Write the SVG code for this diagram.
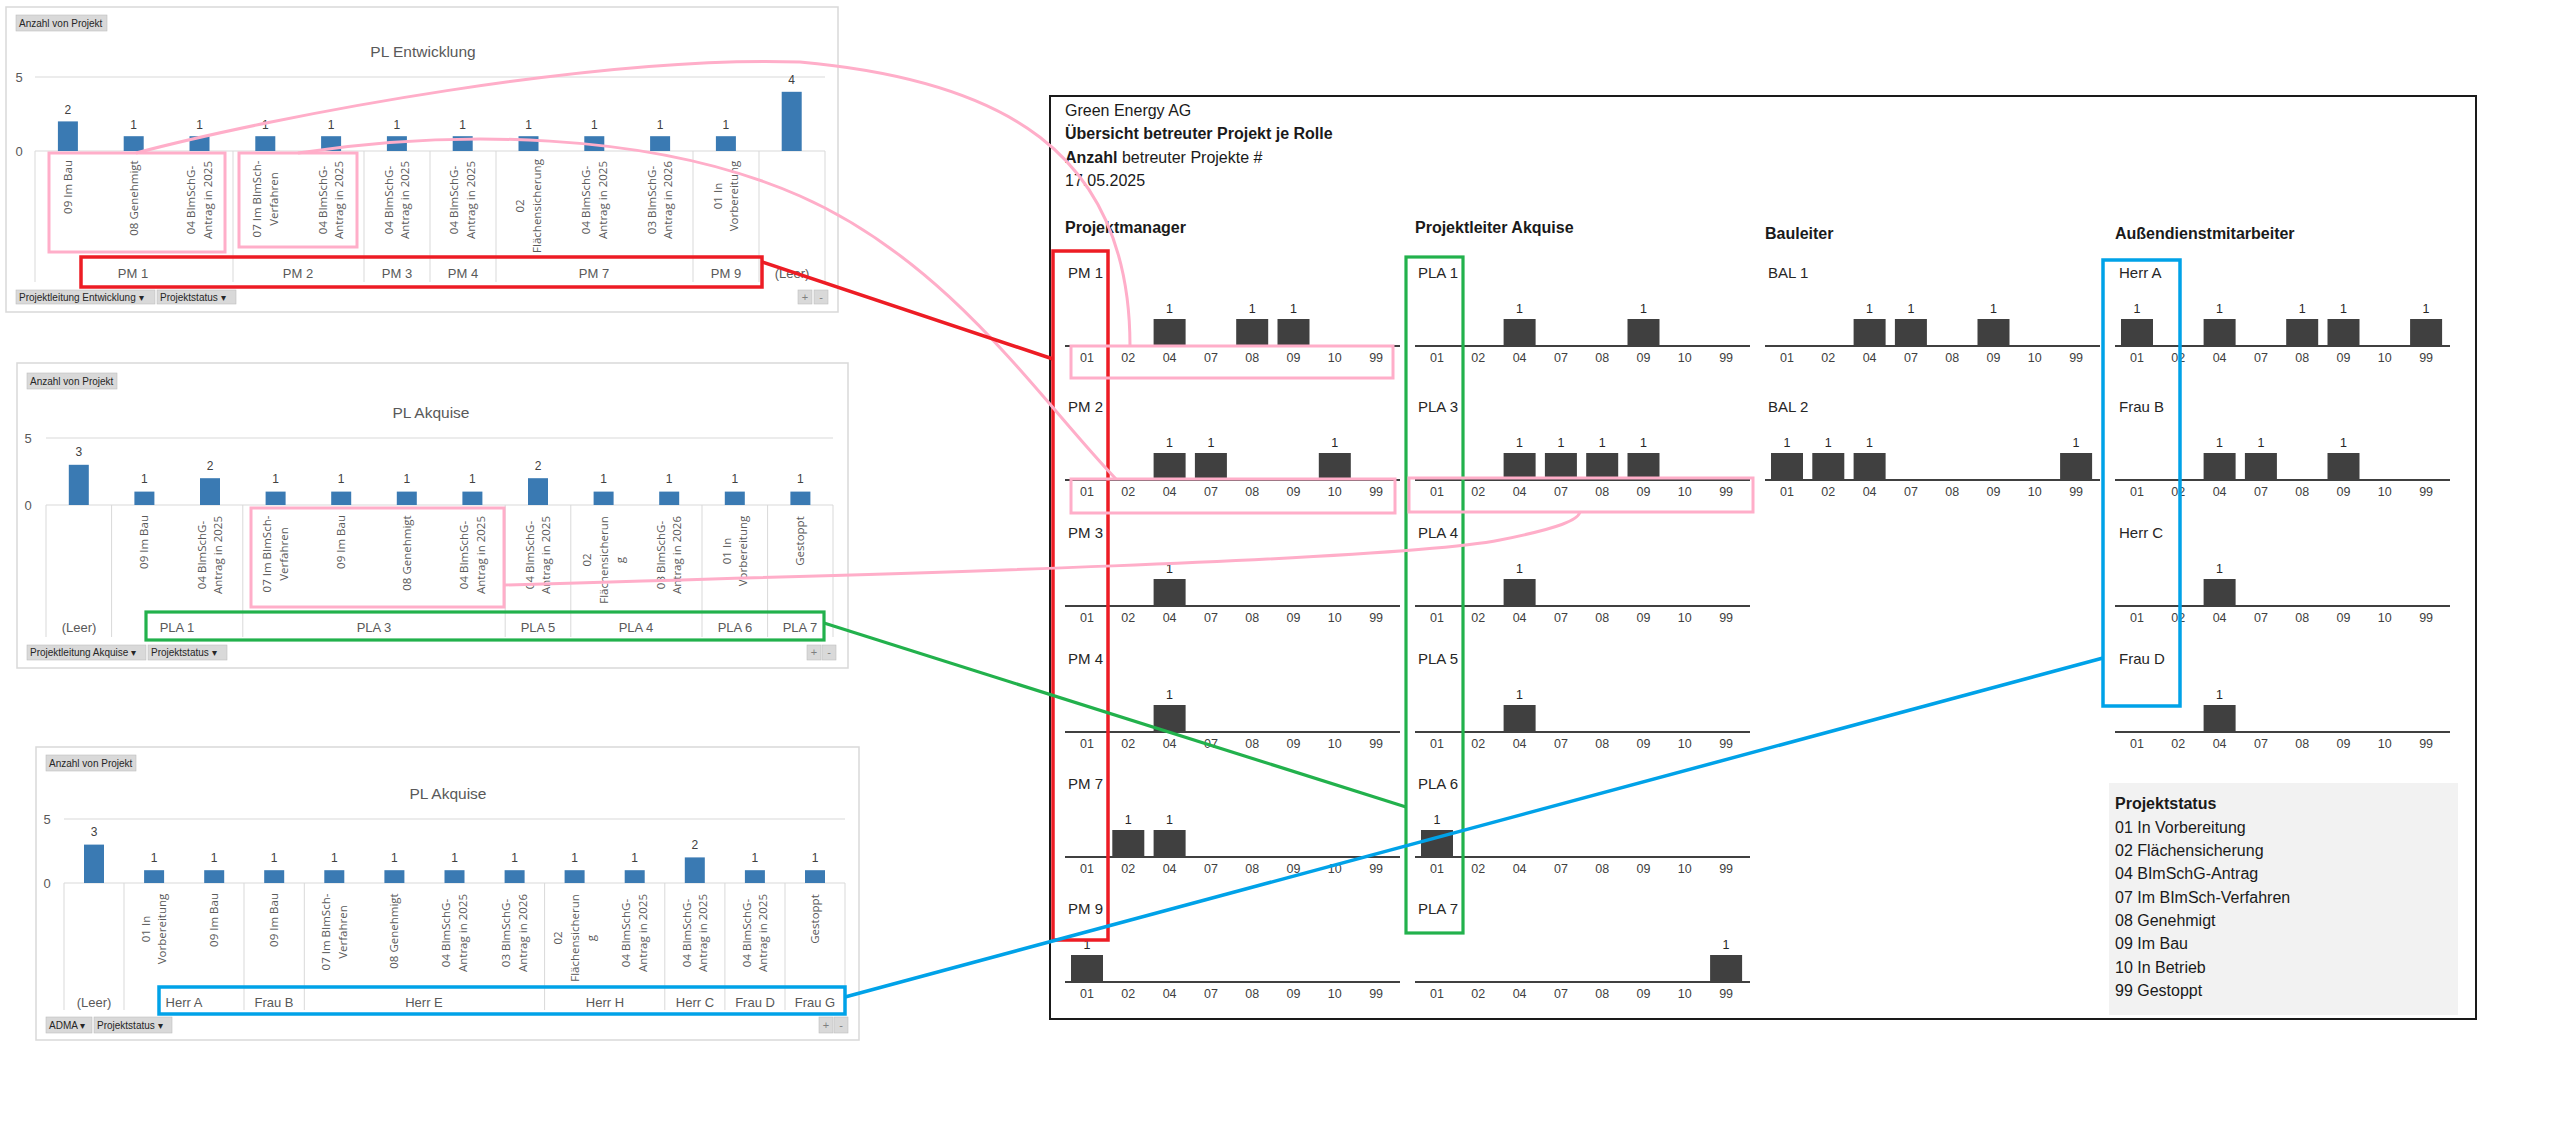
<svg xmlns="http://www.w3.org/2000/svg" xmlns:xlink="http://www.w3.org/1999/xlink" width="2560" height="1122" viewBox="0 0 2560 1122" font-family="'Liberation Sans', Arial, sans-serif">
<style>
.frame{fill:#fff;stroke:#d9d9d9;stroke-width:1.5}
.grid{stroke:#d9d9d9;stroke-width:1.2}
.sep{stroke:#d9d9d9;stroke-width:1}
.bar{fill:#3a7ab3}
.ct{font-size:15.5px;fill:#595959;text-anchor:middle}
.axn{font-size:13px;fill:#595959;text-anchor:middle}
.vl{font-size:12px;fill:#404040;text-anchor:middle}
.rl{font-family:'Open Sans','DejaVu Sans',sans-serif;font-size:11.5px;fill:#595959;text-anchor:middle}
.gl{font-size:13px;fill:#595959;text-anchor:middle}
.btn{fill:#d9d9d9;stroke:#bfbfbf;stroke-width:0.6}
.bt{font-size:10px;fill:#262626}
.pm{font-size:11px;fill:#7f7f7f;text-anchor:middle}
.pax{stroke:#404040;stroke-width:2}
.pb{fill:#404040}
.cat{font-size:12.5px;fill:#404040;text-anchor:middle}
.pv{font-size:12.5px;fill:#262626;text-anchor:middle}
.nm{font-size:15px;fill:#262626}
.hd{font-size:16px;fill:#1a1a1a}
.b{font-weight:bold}
.hl{fill:none}
.pink{stroke:#ffaec9;stroke-width:3;fill:none}
.red{stroke:#ed1c24;stroke-width:3.5;fill:none}
.green{stroke:#22b14c;stroke-width:3.2;fill:none}
.blue{stroke:#00a2e8;stroke-width:3.5;fill:none}
</style>
<defs>
<g id="ax">
<line x1="0" y1="0" x2="335" y2="0" class="pax"/>
<text class="cat" x="22" y="16">01</text>
<text class="cat" x="63.3" y="16">02</text>
<text class="cat" x="104.6" y="16">04</text>
<text class="cat" x="145.9" y="16">07</text>
<text class="cat" x="187.2" y="16">08</text>
<text class="cat" x="228.5" y="16">09</text>
<text class="cat" x="269.8" y="16">10</text>
<text class="cat" x="311.1" y="16">99</text>
</g>
</defs>
<rect width="2560" height="1122" fill="#fff"/>

<!-- Chart 1: PL Entwicklung -->
<g id="chart-pl-entwicklung">
<rect class="frame" x="6" y="7" width="832" height="305"/>
<rect class="btn" x="16" y="15" width="91" height="16"/>
<text class="bt" x="19" y="27">Anzahl von Projekt</text>
<text class="ct" x="423" y="57">PL Entwicklung</text>
<text class="axn" x="19" y="82">5</text>
<text class="axn" x="19" y="156">0</text>
<line class="grid" x1="35" y1="77" x2="825" y2="77"/>
<line class="grid" x1="35" y1="151" x2="825" y2="151"/>
<g class="sep">
<line x1="35" y1="151" x2="35" y2="282"/><line x1="233" y1="151" x2="233" y2="282"/><line x1="364" y1="151" x2="364" y2="282"/><line x1="430" y1="151" x2="430" y2="282"/><line x1="496" y1="151" x2="496" y2="282"/><line x1="693" y1="151" x2="693" y2="282"/><line x1="759" y1="151" x2="759" y2="282"/><line x1="825" y1="151" x2="825" y2="282"/>
</g>
<rect class="bar" x="57.9" y="121.4" width="20" height="29.6"/>
<rect class="bar" x="123.7" y="136.2" width="20" height="14.8"/>
<rect class="bar" x="189.5" y="136.2" width="20" height="14.8"/>
<rect class="bar" x="255.3" y="136.2" width="20" height="14.8"/>
<rect class="bar" x="321.1" y="136.2" width="20" height="14.8"/>
<rect class="bar" x="386.9" y="136.2" width="20" height="14.8"/>
<rect class="bar" x="452.7" y="136.2" width="20" height="14.8"/>
<rect class="bar" x="518.5" y="136.2" width="20" height="14.8"/>
<rect class="bar" x="584.3" y="136.2" width="20" height="14.8"/>
<rect class="bar" x="650.1" y="136.2" width="20" height="14.8"/>
<rect class="bar" x="715.9" y="136.2" width="20" height="14.8"/>
<rect class="bar" x="781.7" y="91.8" width="20" height="59.2"/>
<text class="vl" x="67.9" y="114">2</text>
<text class="vl" x="133.7" y="129">1</text>
<text class="vl" x="199.5" y="129">1</text>
<text class="vl" x="265.3" y="129">1</text>
<text class="vl" x="331.1" y="129">1</text>
<text class="vl" x="396.9" y="129">1</text>
<text class="vl" x="462.7" y="129">1</text>
<text class="vl" x="528.5" y="129">1</text>
<text class="vl" x="594.3" y="129">1</text>
<text class="vl" x="660.1" y="129">1</text>
<text class="vl" x="725.9" y="129">1</text>
<text class="vl" x="791.7" y="84">4</text>
<text class="rl" transform="translate(71.9,187) rotate(-90)">09 Im Bau</text>
<text class="rl" transform="translate(137.7,198) rotate(-90)">08 Genehmigt</text>
<text class="rl" transform="translate(195.25,200) rotate(-90)">04 BImSchG-</text>
<text class="rl" transform="translate(211.75,200) rotate(-90)">Antrag in 2025</text>
<text class="rl" transform="translate(261.05,199) rotate(-90)">07 Im BImSch-</text>
<text class="rl" transform="translate(277.55,199) rotate(-90)">Verfahren</text>
<text class="rl" transform="translate(326.85,200) rotate(-90)">04 BImSchG-</text>
<text class="rl" transform="translate(343.35,200) rotate(-90)">Antrag in 2025</text>
<text class="rl" transform="translate(392.65,200) rotate(-90)">04 BImSchG-</text>
<text class="rl" transform="translate(409.15,200) rotate(-90)">Antrag in 2025</text>
<text class="rl" transform="translate(458.45,200) rotate(-90)">04 BImSchG-</text>
<text class="rl" transform="translate(474.95,200) rotate(-90)">Antrag in 2025</text>
<text class="rl" transform="translate(524.25,206) rotate(-90)">02</text>
<text class="rl" transform="translate(540.75,206) rotate(-90)">Flächensicherung</text>
<text class="rl" transform="translate(590.05,200) rotate(-90)">04 BImSchG-</text>
<text class="rl" transform="translate(606.55,200) rotate(-90)">Antrag in 2025</text>
<text class="rl" transform="translate(655.85,200) rotate(-90)">03 BImSchG-</text>
<text class="rl" transform="translate(672.35,200) rotate(-90)">Antrag in 2026</text>
<text class="rl" transform="translate(721.65,196) rotate(-90)">01 In</text>
<text class="rl" transform="translate(738.15,196) rotate(-90)">Vorbereitung</text>
<text class="gl" x="133" y="278">PM 1</text>
<text class="gl" x="298" y="278">PM 2</text>
<text class="gl" x="397" y="278">PM 3</text>
<text class="gl" x="463" y="278">PM 4</text>
<text class="gl" x="594" y="278">PM 7</text>
<text class="gl" x="726" y="278">PM 9</text>
<text class="gl" x="792" y="278">(Leer)</text>
<rect class="btn" x="16" y="290" width="139" height="14"/>
<text class="bt" x="19" y="301">Projektleitung Entwicklung ▾</text>
<rect class="btn" x="157" y="290" width="79" height="14"/>
<text class="bt" x="160" y="301">Projektstatus ▾</text>
<rect class="btn" x="798" y="290" width="14" height="14"/><text class="pm" x="805" y="301">+</text>
<rect class="btn" x="814" y="290" width="14" height="14"/><text class="pm" x="821" y="301">-</text>
</g>

<!-- Chart 2: PL Akquise -->
<g id="chart-pl-akquise-1">
<rect class="frame" x="17" y="363" width="831" height="305"/>
<rect class="btn" x="27" y="373" width="90" height="16"/>
<text class="bt" x="30" y="385">Anzahl von Projekt</text>
<text class="ct" x="431" y="418">PL Akquise</text>
<text class="axn" x="28" y="443">5</text>
<text class="axn" x="28" y="510">0</text>
<line class="grid" x1="46" y1="438" x2="833" y2="438"/>
<line class="grid" x1="46" y1="505" x2="833" y2="505"/>
<g class="sep">
<line x1="46" y1="505" x2="46" y2="637"/><line x1="111.6" y1="505" x2="111.6" y2="637"/><line x1="242.8" y1="505" x2="242.8" y2="637"/><line x1="505.2" y1="505" x2="505.2" y2="637"/><line x1="570.8" y1="505" x2="570.8" y2="637"/><line x1="702" y1="505" x2="702" y2="637"/><line x1="767.6" y1="505" x2="767.6" y2="637"/><line x1="833" y1="505" x2="833" y2="637"/>
</g>
<rect class="bar" x="68.8" y="464.8" width="20" height="40.2"/>
<rect class="bar" x="134.4" y="491.6" width="20" height="13.4"/>
<rect class="bar" x="200" y="478.2" width="20" height="26.8"/>
<rect class="bar" x="265.6" y="491.6" width="20" height="13.4"/>
<rect class="bar" x="331.2" y="491.6" width="20" height="13.4"/>
<rect class="bar" x="396.8" y="491.6" width="20" height="13.4"/>
<rect class="bar" x="462.4" y="491.6" width="20" height="13.4"/>
<rect class="bar" x="528" y="478.2" width="20" height="26.8"/>
<rect class="bar" x="593.6" y="491.6" width="20" height="13.4"/>
<rect class="bar" x="659.2" y="491.6" width="20" height="13.4"/>
<rect class="bar" x="724.8" y="491.6" width="20" height="13.4"/>
<rect class="bar" x="790.4" y="491.6" width="20" height="13.4"/>
<text class="vl" x="78.8" y="456">3</text>
<text class="vl" x="144.4" y="483">1</text>
<text class="vl" x="210" y="470">2</text>
<text class="vl" x="275.6" y="483">1</text>
<text class="vl" x="341.2" y="483">1</text>
<text class="vl" x="406.8" y="483">1</text>
<text class="vl" x="472.4" y="483">1</text>
<text class="vl" x="538" y="470">2</text>
<text class="vl" x="603.6" y="483">1</text>
<text class="vl" x="669.2" y="483">1</text>
<text class="vl" x="734.8" y="483">1</text>
<text class="vl" x="800.4" y="483">1</text>
<text class="rl" transform="translate(148.4,542) rotate(-90)">09 Im Bau</text>
<text class="rl" transform="translate(205.75,555) rotate(-90)">04 BImSchG-</text>
<text class="rl" transform="translate(222.25,555) rotate(-90)">Antrag in 2025</text>
<text class="rl" transform="translate(271.35,554) rotate(-90)">07 Im BImSch-</text>
<text class="rl" transform="translate(287.85,554) rotate(-90)">Verfahren</text>
<text class="rl" transform="translate(345.2,542) rotate(-90)">09 Im Bau</text>
<text class="rl" transform="translate(410.8,553) rotate(-90)">08 Genehmigt</text>
<text class="rl" transform="translate(468.15,555) rotate(-90)">04 BImSchG-</text>
<text class="rl" transform="translate(484.65,555) rotate(-90)">Antrag in 2025</text>
<text class="rl" transform="translate(533.75,555) rotate(-90)">04 BImSchG-</text>
<text class="rl" transform="translate(550.25,555) rotate(-90)">Antrag in 2025</text>
<text class="rl" transform="translate(591.1,560) rotate(-90)">02</text>
<text class="rl" transform="translate(607.6,560) rotate(-90)">Flächensicherun</text>
<text class="rl" transform="translate(624.1,560) rotate(-90)">g</text>
<text class="rl" transform="translate(664.95,555) rotate(-90)">03 BImSchG-</text>
<text class="rl" transform="translate(681.45,555) rotate(-90)">Antrag in 2026</text>
<text class="rl" transform="translate(730.55,551) rotate(-90)">01 In</text>
<text class="rl" transform="translate(747.05,551) rotate(-90)">Vorbereitung</text>
<text class="rl" transform="translate(804.4,541) rotate(-90)">Gestoppt</text>
<text class="gl" x="79" y="632">(Leer)</text>
<text class="gl" x="177" y="632">PLA 1</text>
<text class="gl" x="374" y="632">PLA 3</text>
<text class="gl" x="538" y="632">PLA 5</text>
<text class="gl" x="636" y="632">PLA 4</text>
<text class="gl" x="735" y="632">PLA 6</text>
<text class="gl" x="800" y="632">PLA 7</text>
<rect class="btn" x="27" y="645" width="119" height="15"/>
<text class="bt" x="30" y="656">Projektleitung Akquise ▾</text>
<rect class="btn" x="148" y="645" width="79" height="15"/>
<text class="bt" x="151" y="656">Projektstatus ▾</text>
<rect class="btn" x="807" y="645" width="14" height="15"/><text class="pm" x="814" y="656">+</text>
<rect class="btn" x="822" y="645" width="14" height="15"/><text class="pm" x="829" y="656">-</text>
</g>

<!-- Chart 3: PL Akquise (ADMA) -->
<g id="chart-pl-akquise-2">
<rect class="frame" x="36" y="747" width="823" height="293"/>
<rect class="btn" x="46" y="755" width="90" height="16"/>
<text class="bt" x="49" y="767">Anzahl von Projekt</text>
<text class="ct" x="448" y="799">PL Akquise</text>
<text class="axn" x="47" y="824">5</text>
<text class="axn" x="47" y="888">0</text>
<line class="grid" x1="64" y1="819" x2="845" y2="819"/>
<line class="grid" x1="64" y1="883" x2="845" y2="883"/>
<g class="sep">
<line x1="64" y1="883" x2="64" y2="1010"/><line x1="124" y1="883" x2="124" y2="1010"/><line x1="244" y1="883" x2="244" y2="1010"/><line x1="304.3" y1="883" x2="304.3" y2="1010"/><line x1="544.6" y1="883" x2="544.6" y2="1010"/><line x1="664.8" y1="883" x2="664.8" y2="1010"/><line x1="724.9" y1="883" x2="724.9" y2="1010"/><line x1="785" y1="883" x2="785" y2="1010"/><line x1="845" y1="883" x2="845" y2="1010"/>
</g>
<rect class="bar" x="84" y="844.6" width="20" height="38.4"/>
<rect class="bar" x="144.1" y="870.2" width="20" height="12.8"/>
<rect class="bar" x="204.2" y="870.2" width="20" height="12.8"/>
<rect class="bar" x="264.2" y="870.2" width="20" height="12.8"/>
<rect class="bar" x="324.3" y="870.2" width="20" height="12.8"/>
<rect class="bar" x="384.4" y="870.2" width="20" height="12.8"/>
<rect class="bar" x="444.5" y="870.2" width="20" height="12.8"/>
<rect class="bar" x="504.6" y="870.2" width="20" height="12.8"/>
<rect class="bar" x="564.6" y="870.2" width="20" height="12.8"/>
<rect class="bar" x="624.7" y="870.2" width="20" height="12.8"/>
<rect class="bar" x="684.8" y="857.4" width="20" height="25.6"/>
<rect class="bar" x="744.9" y="870.2" width="20" height="12.8"/>
<rect class="bar" x="805" y="870.2" width="20" height="12.8"/>
<text class="vl" x="94" y="836">3</text>
<text class="vl" x="154.1" y="862">1</text>
<text class="vl" x="214.2" y="862">1</text>
<text class="vl" x="274.2" y="862">1</text>
<text class="vl" x="334.3" y="862">1</text>
<text class="vl" x="394.4" y="862">1</text>
<text class="vl" x="454.5" y="862">1</text>
<text class="vl" x="514.6" y="862">1</text>
<text class="vl" x="574.6" y="862">1</text>
<text class="vl" x="634.7" y="862">1</text>
<text class="vl" x="694.8" y="849">2</text>
<text class="vl" x="754.9" y="862">1</text>
<text class="vl" x="815" y="862">1</text>
<text class="rl" transform="translate(149.85,929) rotate(-90)">01 In</text>
<text class="rl" transform="translate(166.35,929) rotate(-90)">Vorbereitung</text>
<text class="rl" transform="translate(218.2,920) rotate(-90)">09 Im Bau</text>
<text class="rl" transform="translate(278.2,920) rotate(-90)">09 Im Bau</text>
<text class="rl" transform="translate(330.05,932) rotate(-90)">07 Im BImSch-</text>
<text class="rl" transform="translate(346.55,932) rotate(-90)">Verfahren</text>
<text class="rl" transform="translate(398.4,931) rotate(-90)">08 Genehmigt</text>
<text class="rl" transform="translate(450.25,933) rotate(-90)">04 BImSchG-</text>
<text class="rl" transform="translate(466.75,933) rotate(-90)">Antrag in 2025</text>
<text class="rl" transform="translate(510.35,933) rotate(-90)">03 BImSchG-</text>
<text class="rl" transform="translate(526.85,933) rotate(-90)">Antrag in 2026</text>
<text class="rl" transform="translate(562.1,938) rotate(-90)">02</text>
<text class="rl" transform="translate(578.6,938) rotate(-90)">Flächensicherun</text>
<text class="rl" transform="translate(595.1,938) rotate(-90)">g</text>
<text class="rl" transform="translate(630.45,933) rotate(-90)">04 BImSchG-</text>
<text class="rl" transform="translate(646.95,933) rotate(-90)">Antrag in 2025</text>
<text class="rl" transform="translate(690.55,933) rotate(-90)">04 BImSchG-</text>
<text class="rl" transform="translate(707.05,933) rotate(-90)">Antrag in 2025</text>
<text class="rl" transform="translate(750.65,933) rotate(-90)">04 BImSchG-</text>
<text class="rl" transform="translate(767.15,933) rotate(-90)">Antrag in 2025</text>
<text class="rl" transform="translate(819,919) rotate(-90)">Gestoppt</text>
<text class="gl" x="94" y="1007">(Leer)</text>
<text class="gl" x="184" y="1007">Herr A</text>
<text class="gl" x="274" y="1007">Frau B</text>
<text class="gl" x="424" y="1007">Herr E</text>
<text class="gl" x="605" y="1007">Herr H</text>
<text class="gl" x="695" y="1007">Herr C</text>
<text class="gl" x="755" y="1007">Frau D</text>
<text class="gl" x="815" y="1007">Frau G</text>
<rect class="btn" x="46" y="1017" width="46" height="16"/>
<text class="bt" x="49" y="1029">ADMA ▾</text>
<rect class="btn" x="94" y="1017" width="78" height="16"/>
<text class="bt" x="97" y="1029">Projektstatus ▾</text>
<rect class="btn" x="819" y="1017" width="14" height="16"/><text class="pm" x="826" y="1029">+</text>
<rect class="btn" x="834" y="1017" width="14" height="16"/><text class="pm" x="841" y="1029">-</text>
</g>

<!-- Right report panel -->
<g id="report">
<rect x="1050" y="96" width="1426" height="923" fill="#fff" stroke="#1a1a1a" stroke-width="2"/>
<text class="hd" x="1065" y="116">Green Energy AG</text>
<text class="hd b" x="1065" y="139">Übersicht betreuter Projekt je Rolle</text>
<text class="hd" x="1065" y="163"><tspan class="b">Anzahl</tspan> betreuter Projekte #</text>
<text class="hd" x="1065" y="186">17.05.2025</text>
<text class="hd b" x="1065" y="233">Projektmanager</text>
<text class="hd b" x="1415" y="233">Projektleiter Akquise</text>
<text class="hd b" x="1765" y="239">Bauleiter</text>
<text class="hd b" x="2115" y="239">Außendienstmitarbeiter</text>
</g>

<g id="pm1" transform="translate(1065,346)"><text class="nm" x="3" y="-68">PM 1</text><use href="#ax"/>
<rect class="pb" x="88.6" y="-27" width="32" height="27"/><text class="pv" x="104.6" y="-33">1</text>
<rect class="pb" x="171.2" y="-27" width="32" height="27"/><text class="pv" x="187.2" y="-33">1</text>
<rect class="pb" x="212.5" y="-27" width="32" height="27"/><text class="pv" x="228.5" y="-33">1</text></g>
<g id="pm2" transform="translate(1065,480)"><text class="nm" x="3" y="-68">PM 2</text><use href="#ax"/>
<rect class="pb" x="88.6" y="-27" width="32" height="27"/><text class="pv" x="104.6" y="-33">1</text>
<rect class="pb" x="129.9" y="-27" width="32" height="27"/><text class="pv" x="145.9" y="-33">1</text>
<rect class="pb" x="253.8" y="-27" width="32" height="27"/><text class="pv" x="269.8" y="-33">1</text></g>
<g id="pm3" transform="translate(1065,606)"><text class="nm" x="3" y="-68">PM 3</text><use href="#ax"/>
<rect class="pb" x="88.6" y="-27" width="32" height="27"/><text class="pv" x="104.6" y="-33">1</text></g>
<g id="pm4" transform="translate(1065,732)"><text class="nm" x="3" y="-68">PM 4</text><use href="#ax"/>
<rect class="pb" x="88.6" y="-27" width="32" height="27"/><text class="pv" x="104.6" y="-33">1</text></g>
<g id="pm7" transform="translate(1065,857)"><text class="nm" x="3" y="-68">PM 7</text><use href="#ax"/>
<rect class="pb" x="47.3" y="-27" width="32" height="27"/><text class="pv" x="63.3" y="-33">1</text>
<rect class="pb" x="88.6" y="-27" width="32" height="27"/><text class="pv" x="104.6" y="-33">1</text></g>
<g id="pm9" transform="translate(1065,982)"><text class="nm" x="3" y="-68">PM 9</text><use href="#ax"/>
<rect class="pb" x="6" y="-27" width="32" height="27"/><text class="pv" x="22" y="-33">1</text></g>

<g id="pla1" transform="translate(1415,346)"><text class="nm" x="3" y="-68">PLA 1</text><use href="#ax"/>
<rect class="pb" x="88.6" y="-27" width="32" height="27"/><text class="pv" x="104.6" y="-33">1</text>
<rect class="pb" x="212.5" y="-27" width="32" height="27"/><text class="pv" x="228.5" y="-33">1</text></g>
<g id="pla3" transform="translate(1415,480)"><text class="nm" x="3" y="-68">PLA 3</text><use href="#ax"/>
<rect class="pb" x="88.6" y="-27" width="32" height="27"/><text class="pv" x="104.6" y="-33">1</text>
<rect class="pb" x="129.9" y="-27" width="32" height="27"/><text class="pv" x="145.9" y="-33">1</text>
<rect class="pb" x="171.2" y="-27" width="32" height="27"/><text class="pv" x="187.2" y="-33">1</text>
<rect class="pb" x="212.5" y="-27" width="32" height="27"/><text class="pv" x="228.5" y="-33">1</text></g>
<g id="pla4" transform="translate(1415,606)"><text class="nm" x="3" y="-68">PLA 4</text><use href="#ax"/>
<rect class="pb" x="88.6" y="-27" width="32" height="27"/><text class="pv" x="104.6" y="-33">1</text></g>
<g id="pla5" transform="translate(1415,732)"><text class="nm" x="3" y="-68">PLA 5</text><use href="#ax"/>
<rect class="pb" x="88.6" y="-27" width="32" height="27"/><text class="pv" x="104.6" y="-33">1</text></g>
<g id="pla6" transform="translate(1415,857)"><text class="nm" x="3" y="-68">PLA 6</text><use href="#ax"/>
<rect class="pb" x="6" y="-27" width="32" height="27"/><text class="pv" x="22" y="-33">1</text></g>
<g id="pla7" transform="translate(1415,982)"><text class="nm" x="3" y="-68">PLA 7</text><use href="#ax"/>
<rect class="pb" x="295.1" y="-27" width="32" height="27"/><text class="pv" x="311.1" y="-33">1</text></g>

<g id="bal1" transform="translate(1765,346)"><text class="nm" x="3" y="-68">BAL 1</text><use href="#ax"/>
<rect class="pb" x="88.6" y="-27" width="32" height="27"/><text class="pv" x="104.6" y="-33">1</text>
<rect class="pb" x="129.9" y="-27" width="32" height="27"/><text class="pv" x="145.9" y="-33">1</text>
<rect class="pb" x="212.5" y="-27" width="32" height="27"/><text class="pv" x="228.5" y="-33">1</text></g>
<g id="bal2" transform="translate(1765,480)"><text class="nm" x="3" y="-68">BAL 2</text><use href="#ax"/>
<rect class="pb" x="6" y="-27" width="32" height="27"/><text class="pv" x="22" y="-33">1</text>
<rect class="pb" x="47.3" y="-27" width="32" height="27"/><text class="pv" x="63.3" y="-33">1</text>
<rect class="pb" x="88.6" y="-27" width="32" height="27"/><text class="pv" x="104.6" y="-33">1</text>
<rect class="pb" x="295.1" y="-27" width="32" height="27"/><text class="pv" x="311.1" y="-33">1</text></g>

<g id="herr-a" transform="translate(2115,346)"><text class="nm" x="4" y="-68">Herr A</text><use href="#ax"/>
<rect class="pb" x="6" y="-27" width="32" height="27"/><text class="pv" x="22" y="-33">1</text>
<rect class="pb" x="88.6" y="-27" width="32" height="27"/><text class="pv" x="104.6" y="-33">1</text>
<rect class="pb" x="171.2" y="-27" width="32" height="27"/><text class="pv" x="187.2" y="-33">1</text>
<rect class="pb" x="212.5" y="-27" width="32" height="27"/><text class="pv" x="228.5" y="-33">1</text>
<rect class="pb" x="295.1" y="-27" width="32" height="27"/><text class="pv" x="311.1" y="-33">1</text></g>
<g id="frau-b" transform="translate(2115,480)"><text class="nm" x="4" y="-68">Frau B</text><use href="#ax"/>
<rect class="pb" x="88.6" y="-27" width="32" height="27"/><text class="pv" x="104.6" y="-33">1</text>
<rect class="pb" x="129.9" y="-27" width="32" height="27"/><text class="pv" x="145.9" y="-33">1</text>
<rect class="pb" x="212.5" y="-27" width="32" height="27"/><text class="pv" x="228.5" y="-33">1</text></g>
<g id="herr-c" transform="translate(2115,606)"><text class="nm" x="4" y="-68">Herr C</text><use href="#ax"/>
<rect class="pb" x="88.6" y="-27" width="32" height="27"/><text class="pv" x="104.6" y="-33">1</text></g>
<g id="frau-d" transform="translate(2115,732)"><text class="nm" x="4" y="-68">Frau D</text><use href="#ax"/>
<rect class="pb" x="88.6" y="-27" width="32" height="27"/><text class="pv" x="104.6" y="-33">1</text></g>

<g id="legend">
<rect x="2109" y="783" width="349" height="232" fill="#f2f2f2"/>
<text class="hd b" x="2115" y="809">Projektstatus</text>
<text class="hd" x="2115" y="833">01 In Vorbereitung</text>
<text class="hd" x="2115" y="856">02 Flächensicherung</text>
<text class="hd" x="2115" y="879">04 BImSchG-Antrag</text>
<text class="hd" x="2115" y="903">07 Im BImSch-Verfahren</text>
<text class="hd" x="2115" y="926">08 Genehmigt</text>
<text class="hd" x="2115" y="949">09 Im Bau</text>
<text class="hd" x="2115" y="973">10 In Betrieb</text>
<text class="hd" x="2115" y="996">99 Gestoppt</text>
</g>

<g id="highlights">
<rect class="pink" x="49" y="153" width="176" height="99"/>
<rect class="pink" x="239" y="153" width="118" height="94"/>
<rect class="red" x="81" y="257" width="681" height="30"/>
<rect class="pink" x="251" y="508" width="253" height="99"/>
<rect class="green" x="146" y="612" width="678" height="28"/>
<rect class="blue" x="159" y="987" width="686" height="27"/>
<rect class="red" x="1053" y="251" width="55" height="689"/>
<rect class="green" x="1406" y="257" width="57" height="676"/>
<rect class="blue" x="2103" y="260" width="77" height="446"/>
<rect class="pink" x="1071" y="346" width="322" height="32"/>
<rect class="pink" x="1071" y="479" width="324" height="34"/>
<rect class="pink" x="1409" y="478" width="344" height="34"/>
</g>

<g id="connectors">
<path class="pink" d="M136,153 C280,115 600,55 800,62 C1000,80 1130,150 1130,346"/>
<path class="pink" d="M298,153 C450,130 650,130 800,196 C950,262 1040,400 1116,479"/>
<path class="pink" d="M504,585 C900,574 1400,560 1500,540 C1560,528 1578,520 1580,512"/>
<path class="red" d="M762,262 L1053,359"/>
<path class="green" d="M824,623 L1406,807"/>
<path class="blue" d="M845,997 L2103,658"/>
</g>
</svg>
